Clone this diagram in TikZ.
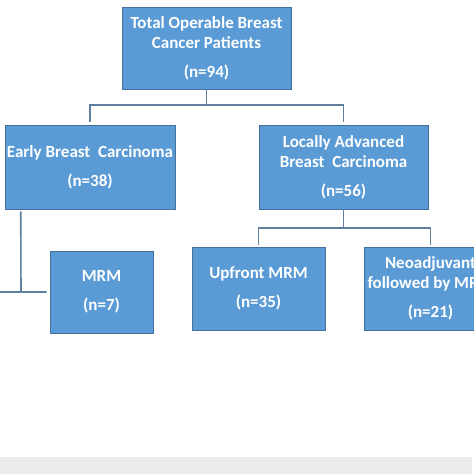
\documentclass[tikz,border=0pt]{standalone}
\usepackage{fontspec}
\setmainfont{Carlito}
\usepackage{tikz}
\usetikzlibrary{arrows.meta, positioning, calc}
\usepackage{xcolor}
\definecolor{boxblue}{HTML}{5B9BD5}
\definecolor{boxedge}{HTML}{41719C}
\definecolor{linkgrey}{HTML}{5F7FA0}
\definecolor{stripgrey}{HTML}{EBEBEB}

\begin{document}
\begin{tikzpicture}[x=1pt, y=-1pt,
  box/.style={fill=boxblue, draw=boxedge, line width=0.6pt, text=white, align=center, inner sep=0pt,
    font=\fontsize{17}{20}\selectfont\bfseries},
  conn/.style={draw=linkgrey, line width=1.6pt}]
\useasboundingbox (0,0) rectangle (474,474);
% bottom strip
\fill[stripgrey] (0,457) rectangle (472,474);
% boxes
\node[box, minimum width=169pt, minimum height=82pt] (total) at (206.5,48) {Total Operable Breast\\Cancer Patients\\[9pt](n=94)};
\node[box, minimum width=170pt, minimum height=84pt] (early) at (90,167) {\makebox[150pt]{Early Breast~ Carcinoma}\\[9pt](n=38)};
\node[box, minimum width=169pt, minimum height=84pt] (labc) at (343.5,167) {Locally Advanced\\Breast~ Carcinoma\\[9pt](n=56)};
\node[box, minimum width=103pt, minimum height=82pt] (mrm) at (101.5,292) {MRM\\[9pt](n=7)};
\node[box, minimum width=133pt, minimum height=83pt] (upfront) at (258.5,288.5) {Upfront MRM\\[9pt](n=35)};
\node[box, minimum width=133pt, minimum height=83pt] (neo) at (430.5,288.5) {Neoadjuvant\\\makebox[110pt]{followed by MRM}\\[9pt](n=21)};
% connectors
\coordinate (j1) at (206.5,105);
\coordinate (j2) at (343.5,228);
\coordinate (ebend) at (21,292);
\coordinate (eleft) at (-4,292);
\draw[conn] (total.south) -- (j1);
\draw[conn, shorten <=3pt, shorten >=3pt] (early.north) |- (j1) -| (labc.north);
\draw[conn] (labc.south) -- (j2);
\draw[conn, shorten <=2pt, shorten >=2pt] (upfront.north) |- (j2) -| (neo.north);
\draw[conn, shorten <=2pt, shorten >=3pt] ([xshift=16pt]early.south west) -- (ebend) -- (mrm.west);
\draw[conn] (ebend) -- (eleft);
\end{tikzpicture}
\end{document}
